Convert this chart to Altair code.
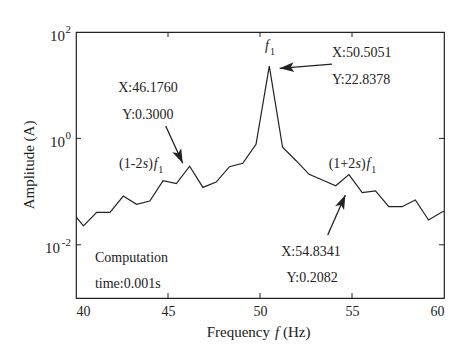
import altair as alt
import pandas as pd

# ---- data ----
freq = [39.6826, 40.4041, 41.1256, 41.8471, 42.5686, 43.2901, 44.0116, 44.7331,
        45.4546, 46.1760, 46.8976, 47.6191, 48.3406, 49.0621, 49.7836, 50.5051,
        51.2266, 51.9481, 52.6696, 53.3911, 54.1126, 54.8341, 55.5556, 56.2771,
        56.9986, 57.7201, 58.4416, 59.1631, 59.8846, 60.6061]
amp = [0.046, 0.0226, 0.0408, 0.0408, 0.0826, 0.0577, 0.0665, 0.160,
       0.141, 0.3000, 0.120, 0.151, 0.294, 0.340, 0.774, 22.8378,
       0.681, 0.385, 0.211, 0.165, 0.129, 0.2082, 0.0953, 0.103,
       0.052, 0.052, 0.0695, 0.0292, 0.0414, 0.050]

x_ticks = [40, 45, 50, 55, 60]
x_inner_ticks = [45, 50, 55]
y_ticks = [0.01, 1, 100]
y_tick_base = ["10", "10", "10"]
y_tick_exp = ["-2", "0", "2"]
y_inner_ticks = [0.01, 1]

# arrows: (tail_f, tail_a, tip_f, tip_a, angle)
arrows = [
    (44.875, 1.71, 45.80, 0.340, 155.5),
    (53.913, 25.0, 51.07, 20.8, 265.3),
    (53.68, 0.0153, 54.64, 0.0863, 23.8),
]

W, H = 368, 266
FONT = "Liberation Serif"
INK = "#222222"

xs = alt.Scale(domain=[40, 60], nice=False, zero=False)
ys = alt.Scale(type="log", domain=[0.001, 100], nice=False)

AX = alt.Axis(values=x_ticks, title=None, grid=False, ticks=False, domain=False,
              labelFont=FONT, labelFontSize=14, labelColor=INK, labelPadding=6,
              format="d")
AY = alt.Axis(values=y_ticks, title=None, grid=False, ticks=False, domain=False,
              labels=False)


def X(field):
    return alt.X(field, scale=xs, axis=AX)


def Y(field):
    return alt.Y(field, scale=ys, axis=AY)


df = pd.DataFrame({"f": freq, "a": amp})

line = alt.Chart(df).mark_line(color=INK, strokeWidth=1.2, clip=True).encode(
    x=X("f:Q"), y=Y("a:Q"))


def txt(x, y, s, dx=0, dy=0, italic=False, size=14, align="left", baseline="alphabetic"):
    d = pd.DataFrame({"f": [x], "a": [y], "t": [s]})
    return alt.Chart(d).mark_text(
        font=FONT, fontSize=size, fontStyle="italic" if italic else "normal",
        align=align, baseline=baseline, dx=dx, dy=dy, color=INK
    ).encode(x=X("f:Q"), y=Y("a:Q"), text="t:N")


def ptxt(px, py, s, italic=False, size=15, align="left", baseline="alphabetic", angle=0):
    d = pd.DataFrame({"t": [s]})
    return alt.Chart(d).mark_text(
        font=FONT, fontSize=size, fontStyle="italic" if italic else "normal",
        align=align, baseline=baseline, color=INK, angle=angle
    ).encode(x=alt.value(px), y=alt.value(py), text="t:N")


def math_label(x, y, prefix, pw):
    # prefix like "(1-2" (pixel width pw); then italic s, ")", italic f, subscript 1
    return [
        txt(x, y, prefix),
        txt(x, y, "s", dx=pw + 0.3, italic=True),
        txt(x, y, ")", dx=pw + 5.8),
        txt(x, y, "f", dx=pw + 11.3, italic=True),
        txt(x, y, "1", dx=pw + 16.0, dy=5, size=10),
    ]


layers = [line]

# y tick labels as 10 with superscript exponent
for val, base, ex in zip(y_ticks, y_tick_base, y_tick_exp):
    d = pd.DataFrame({"a": [val], "b": [base], "e": [ex]})
    ew = 11 if len(ex) > 1 else 6
    layers.append(alt.Chart(d).mark_text(
        font=FONT, fontSize=11, align="right", baseline="alphabetic", dy=1, color=INK
    ).encode(x=alt.value(-5), y=Y("a:Q"), text="e:N"))
    layers.append(alt.Chart(d).mark_text(
        font=FONT, fontSize=15, align="right", baseline="alphabetic", dy=8.5, color=INK
    ).encode(x=alt.value(-5 - ew), y=Y("a:Q"), text="b:N"))

# annotations
layers += [
    txt(43.91, 8.85, "X:46.1760", align="center", baseline="middle"),
    txt(43.91, 2.75, "Y:0.3000", align="center", baseline="middle"),
    txt(53.91, 40.3, "X:50.5051", baseline="middle"),
    txt(53.91, 12.5, "Y:22.8378", baseline="middle"),
    txt(52.77, 0.00733, "X:54.8341", align="center", baseline="middle"),
    txt(52.83, 0.00238, "Y:0.2082", align="center", baseline="middle"),
    txt(41.03, 0.00565, "Computation", baseline="middle"),
    txt(41.03, 0.00183, "time:0.001s", baseline="middle"),
    txt(50.27, 45.9, "f", italic=True),
    txt(50.27, 45.9, "1", dx=5.0, dy=5, size=10),
]
layers += math_label(42.34, 0.278, "(1-2", 23.3)
layers += math_label(53.73, 0.278, "(1+2", 26.6)

# arrows
head_shape = "M0,0L-0.75,2.2L0,1.7L0.75,2.2Z"
for tf, ta, hf, ha, ang in arrows:
    d = pd.DataFrame({"f": [tf], "a": [ta], "f2": [hf], "a2": [ha]})
    layers.append(alt.Chart(d).mark_rule(color=INK, strokeWidth=1.3).encode(
        x=X("f:Q"), x2="f2:Q", y=Y("a:Q"), y2="a2:Q"))
    layers.append(alt.Chart(d).mark_point(
        shape=head_shape, filled=True, color=INK, opacity=1, size=169, angle=ang
    ).encode(x=X("f2:Q"), y=Y("a2:Q")))

# inward ticks (box style)
xt = pd.DataFrame({"f": x_inner_ticks})
yt = pd.DataFrame({"a": y_inner_ticks})
layers += [
    alt.Chart(xt).mark_rule(color=INK).encode(
        x=X("f:Q"), y=alt.value(H), y2=alt.value(H - 5)),
    alt.Chart(xt).mark_rule(color=INK).encode(
        x=X("f:Q"), y=alt.value(0), y2=alt.value(5)),
    alt.Chart(yt).mark_rule(color=INK).encode(
        y=Y("a:Q"), x=alt.value(0), x2=alt.value(5)),
    alt.Chart(yt).mark_rule(color=INK).encode(
        y=Y("a:Q"), x=alt.value(W), x2=alt.value(W - 5)),
]

# axis titles
layers += [
    ptxt(194, 305, "Frequency", align="right"),
    ptxt(201, 305, "f", italic=True, align="center"),
    ptxt(207, 305, "(Hz)", align="left"),
    ptxt(-47, 133, "Amplitude (A)", align="center", baseline="middle", angle=270),
]

chart = alt.layer(*layers).properties(
    width=W, height=H,
    autosize=alt.AutoSizeParams(type="none"),
    padding={"left": 68, "top": 24, "right": 22, "bottom": 57},
    background="white",
).configure_view(stroke=INK, strokeWidth=1.2)

chart.save("out.html", embed_options={"renderer": "svg", "actions": False})
